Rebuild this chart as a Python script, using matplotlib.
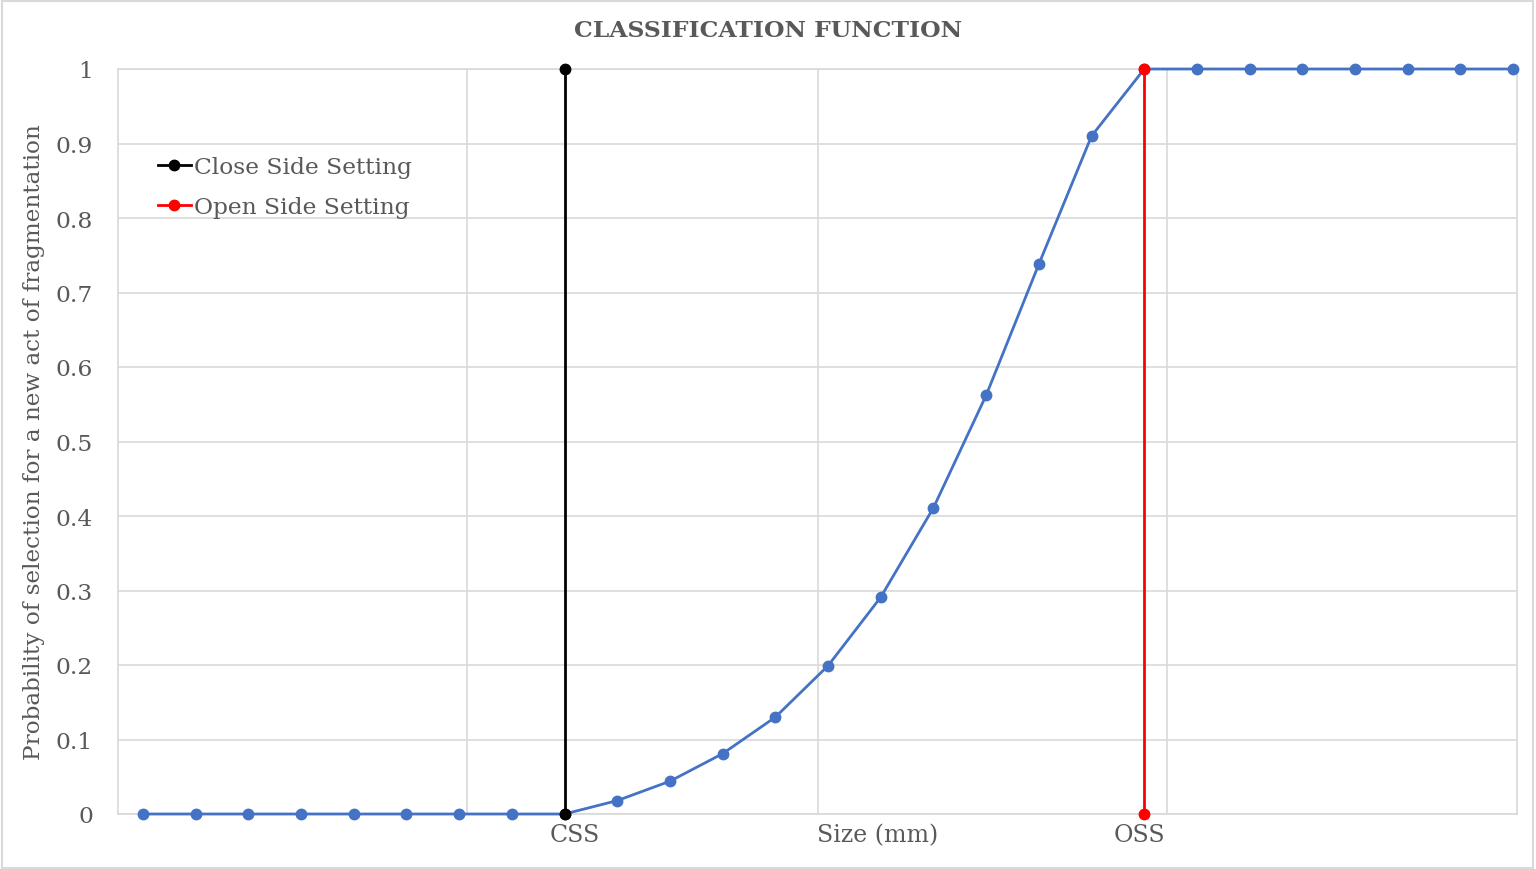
import matplotlib.pyplot as plt
from matplotlib.patches import Rectangle

# size classes (mm) and selection probability
size_mm = [0.75, 2.25, 3.75, 5.25, 6.75, 8.25, 9.75, 11.25, 12.75, 14.25,
           15.75, 17.25, 18.75, 20.25, 21.75, 23.25, 24.75, 26.25, 27.75,
           29.25, 30.75, 32.25, 33.75, 35.25, 36.75, 38.25, 39.75]
prob = [0, 0, 0, 0, 0, 0, 0, 0, 0, 0.018, 0.044, 0.081, 0.130, 0.199,
        0.291, 0.411, 0.562, 0.738, 0.910, 1, 1, 1, 1, 1, 1, 1, 1]

css_x = [12.75, 12.75]
css_y = [0, 1]
oss_x = [29.25, 29.25]
oss_y = [0, 1]

grey = '#595959'
gridc = '#d9d9d9'
plt.rcParams['font.family'] = ['DejaVu Serif']

fig = plt.figure(figsize=(15.36, 8.7), dpi=100)
ax = fig.add_axes([118/1536, 1 - 815/870, (1517-118)/1536, (815-70)/870])

ax.plot(size_mm, prob, color='#4472C4', lw=2, marker='o', ms=7.5, zorder=3,
        clip_on=False)
ax.plot(css_x, css_y, color='black', lw=2, marker='o', ms=7.5,
        label='Close Side Setting', zorder=4, clip_on=False)
ax.plot(oss_x, oss_y, color='#ff0000', lw=2, marker='o', ms=7.5,
        label='Open Side Setting', zorder=4, clip_on=False)

ax.set_xlim(0.04, 39.86)
ax.set_ylim(0, 1)
ax.set_xticks([9.97, 19.96, 29.9])
ax.set_xticklabels([])
ax.set_yticks([i/10 for i in range(11)])
ax.set_yticklabels(['0', '0.1', '0.2', '0.3', '0.4', '0.5', '0.6', '0.7',
                    '0.8', '0.9', '1'])
ax.tick_params(length=0, labelsize=16.8, colors=grey, pad=18)
ax.grid(True, color=gridc, lw=1.2)
for s in ax.spines.values():
    s.set_color(gridc)
    s.set_linewidth(1.2)

ax.set_ylabel('Probability of selection for a new act of fragmentation',
              fontsize=16.7, color=grey, labelpad=8)

ax.text(13.05, -0.028, 'CSS', ha='center', va='center', fontsize=17,
        color=grey)
ax.text(21.65, -0.028, 'Size (mm)', ha='center', va='center', fontsize=17,
        color=grey)
ax.text(29.1, -0.028, 'OSS', ha='center', va='center', fontsize=17,
        color=grey)

leg = ax.legend(loc='upper left', bbox_to_anchor=(0.022, 0.896), frameon=False,
                fontsize=16.8, handlelength=1.4, handletextpad=0.15,
                labelspacing=0.78, labelcolor=grey, borderaxespad=0)

fig.text(0.5, 1 - 31/870, 'CLASSIFICATION FUNCTION', ha='center',
         va='center', fontsize=16.9, color=grey, fontweight='bold')

fig.patches.append(Rectangle((0.001, 0.001), 0.997, 0.997,
                             transform=fig.transFigure, fill=False,
                             edgecolor=gridc, lw=1.5))

fig.savefig('out.png', dpi=100)
